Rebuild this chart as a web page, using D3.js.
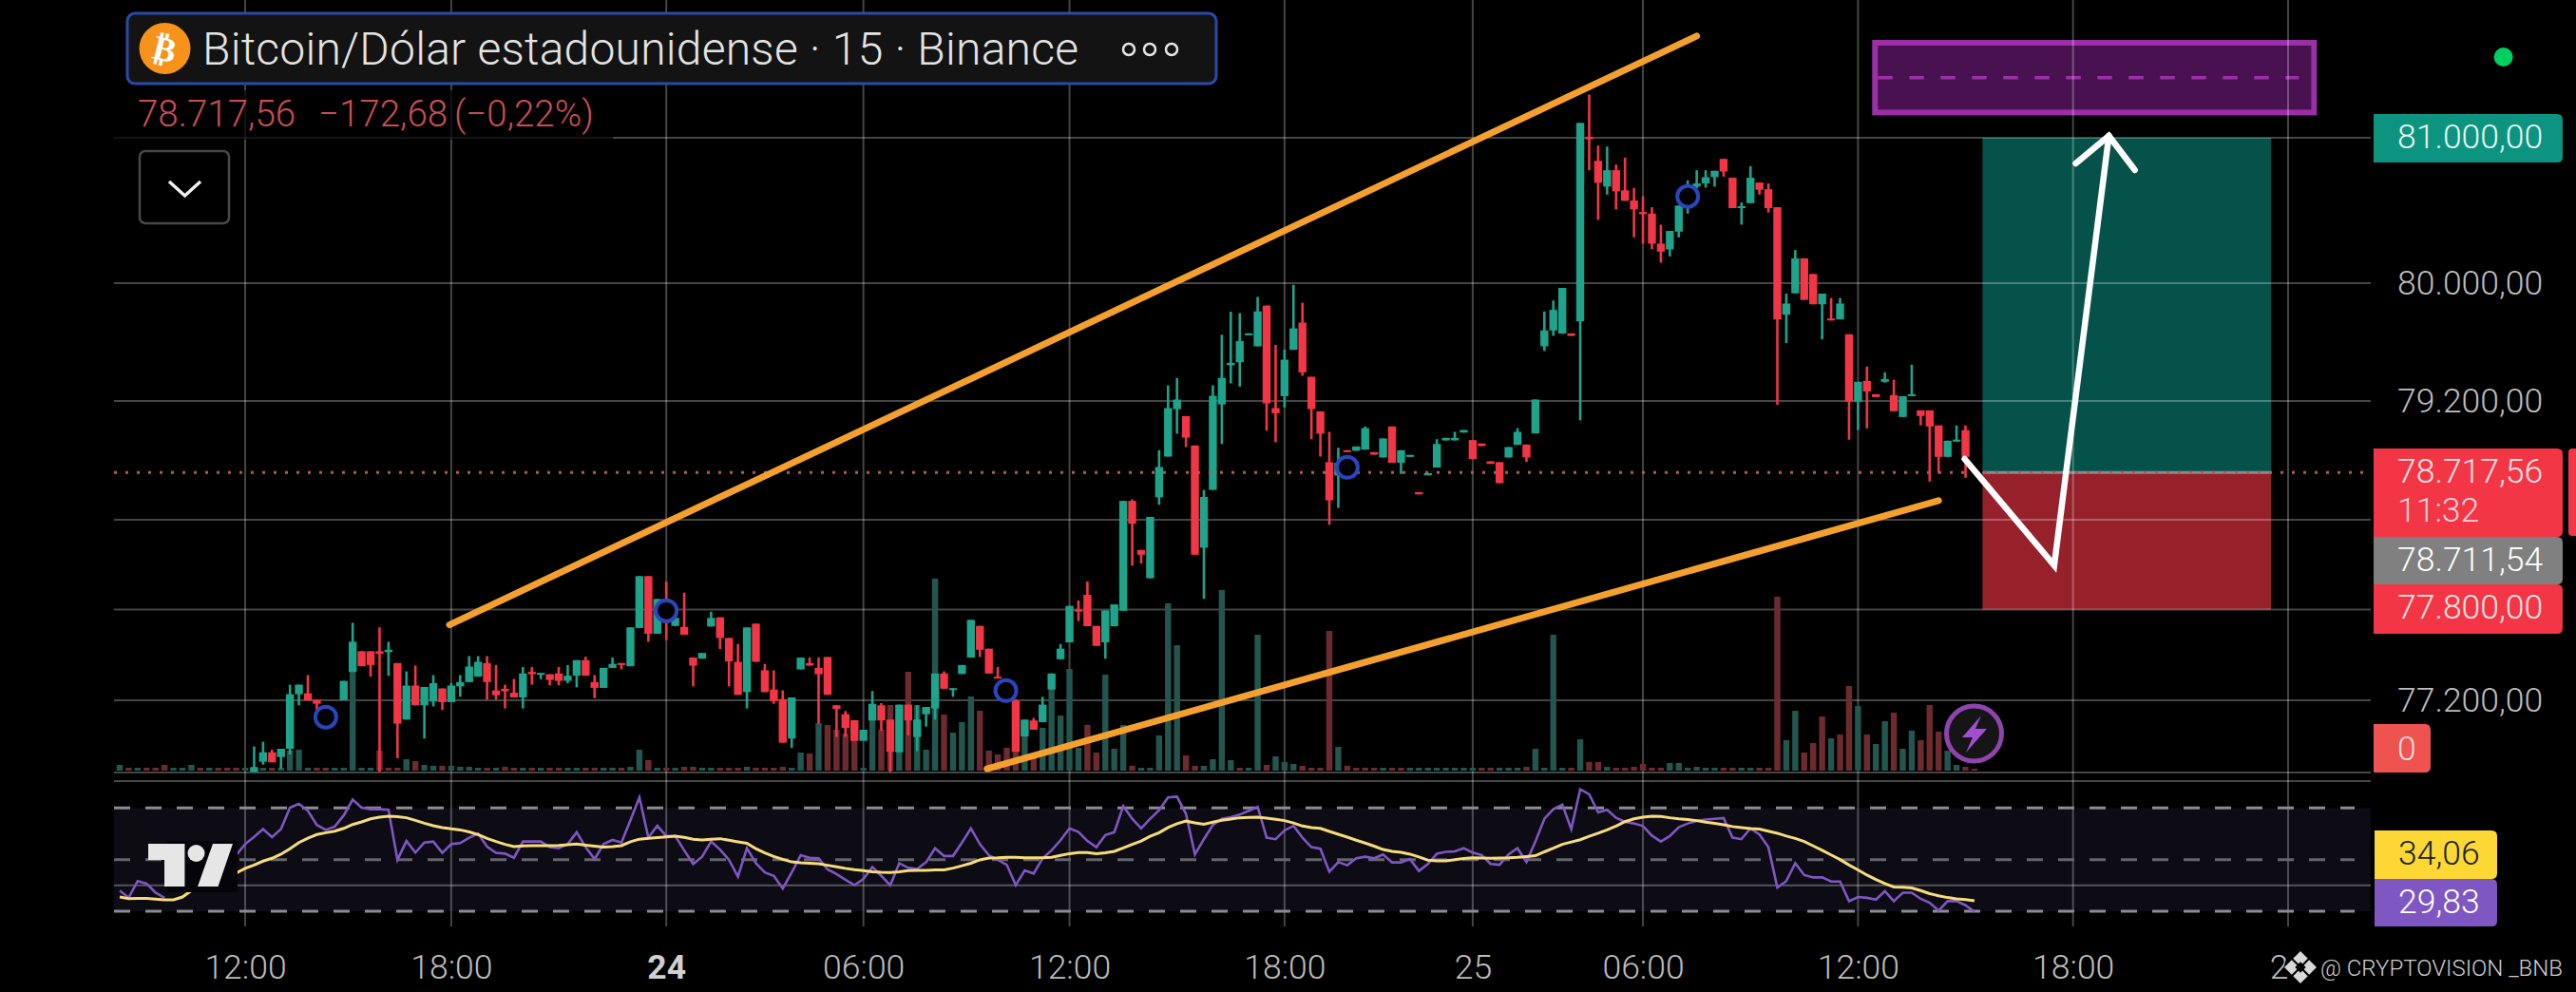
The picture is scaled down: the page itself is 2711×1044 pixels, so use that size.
<!DOCTYPE html>
<html lang="es">
<head>
    <meta charset="UTF-8">
    <title>Bitcoin/Dólar estadounidense</title>
    <style>
        html, body { margin: 0; background: #000; }
        svg { display: block; }
        text { font-family: Roboto, sans-serif; }
    </style>
</head>
<body>
    <div id="chart"></div>
    <script src="https://d3js.org/d3.v7.min.js"></script>
    <script>
        // candles start at bar 15, null = bar hidden or missing in the picture
        const firstCandle = 15;
        const open = [
            76729,76796,76858,76827,76881,77240,77246,77204,null,null,
            77202,77387,77524,77524,77524,77518,77446,77073,77297,77167,
            77192,77278,77188,77292,77320,77356,77446,77265,77276,77250,
            77219,77387,77370,77372,77377,77328,77362,77465,77320,77282,
            77414,77446,77425,77678,78023,77640,77871,77692,77686,77482,
            77475,77688,77749,77612,77454,77254,77707,77398,77271,77208,
            76948,77404,77446,77414,77486,77167,77108,77069,76933,77067,
            77167,77073,76858,77171,76958,77108,77146,77377,77267,77374,
            77482,77692,77541,77356,null,77198,76961,77067,77056,77271,
            77471,77583,77800,77899,77692,77583,77690,77793,78526,78198,
            78009,78551,78824,79144,79097,78899,78213,78600,79176,79441,
            79462,79645,79570,79847,79151,79232,79546,79731,79363,79129,
            78786,78696,78867,78863,78871,78854,78818,79027,78782,78822,
            78585,78698,78750,78933,78933,78986,78935,78912,78792,78786,
            78818,78903,78905,78980,79570,79678,79656,79658,79740,81007,
            80841,80663,80776,80637,80567,80488,80477,80271,80231,80353,
            80532,80663,80685,80728,80854,80724,80515,80549,80691,80645,
            80521,79785,79931,80170,80063,79856,79759,79753,79652,79194,
            79335,79245,79329,79239,79091,79232,79136,79136,79034,78822,78925,79002
        ];
        const high = [
            76896,76927,76875,76881,77303,77303,77366,77204,null,null,
            77328,77713,77524,77524,77682,77587,77446,77391,77429,77288,
            77366,77278,77313,77366,77492,77492,77492,77433,77303,77341,
            77419,77419,77381,77372,77419,77433,77465,77488,77366,77414,
            77482,77446,77682,78023,78023,77871,77987,77745,77913,77482,
            77513,77787,77749,77612,77572,77682,77707,77440,77398,77265,
            77219,77482,77482,77482,77486,77167,77129,77069,77006,77261,
            77181,77073,77171,77171,77167,77156,77377,77391,77280,77433,
            77732,77692,77541,77419,null,77208,77073,77083,77223,77377,
            77572,77825,77861,77987,77692,77795,77835,78526,78536,78198,
            78419,78867,79305,79355,79097,78899,78600,79305,79649,79806,
            79796,79658,79907,79847,79580,79548,79989,79866,79363,79129,
            78991,78884,78867,78892,79027,78854,78946,79027,78867,78835,
            78585,78713,78941,78950,78991,79003,78935,78912,78792,78786,
            78888,79016,78905,79209,79807,79882,79968,79658,81103,81299,
            80946,80939,80815,80863,80652,80597,80521,80401,80358,80532,
            80706,80776,80776,80772,80854,80724,80554,80804,80691,80685,
            80521,79929,80227,80170,80063,79929,79899,79899,79652,79329,
            79432,79245,79393,79342,79232,79445,79136,79136,79034,78931,79034,79034
        ];
        const low = [
            76729,76777,76792,76750,76844,77167,77198,77136,null,null,
            77202,77387,77425,77356,76729,77362,76819,77073,77167,76948,
            77160,77136,77188,77223,77320,77356,77204,77204,77146,77219,
            77146,77303,77339,77299,77299,77313,77286,77362,77214,77282,
            77414,77404,77425,77678,77587,77640,77598,77692,77633,77292,
            77475,77688,77539,77292,77236,77146,77454,77254,77177,76921,
            76886,77404,77429,77046,77236,76958,76958,76933,76933,77067,
            77000,76729,76858,76969,76865,77027,77073,77276,77223,77374,
            77482,77486,77377,77345,null,76861,76961,77006,77056,77271,
            77471,77583,77724,77690,77560,77475,77690,77793,78093,78107,
            78009,78500,78824,78978,78888,78166,77872,78600,78909,79318,
            79297,79645,79570,78999,78920,79155,79546,79370,78941,78824,
            78366,78479,78854,78863,78871,78837,78818,78782,78707,78822,
            78570,78698,78750,78933,78933,78986,78807,78895,78775,78645,
            78818,78903,78788,78980,79538,79641,79656,79641,79068,80776,
            80434,80608,80506,80565,80314,80271,80233,80140,80183,80314,
            80477,80652,80656,80663,80732,80515,80401,80549,80608,80484,
            79174,79592,79931,79886,79856,79617,79746,79753,78938,79002,
            79014,79226,79323,79130,79091,79232,79034,78656,78714,78822,78925,78682
        ];
        const close = [
            76760,76858,76792,76881,77240,77303,77198,77177,null,null,
            77328,77587,77425,77433,77507,77534,77046,77297,77167,77288,
            77313,77188,77297,77320,77423,77454,77320,77233,77259,77219,
            77377,77372,77381,77334,77328,77362,77465,77362,77282,77414,
            77440,77433,77682,78023,77640,77871,77713,77745,77633,77429,
            77513,77745,77612,77457,77236,77682,77454,77254,77194,76921,
            77219,77482,77429,77372,77236,77142,77017,76933,77006,77177,
            77067,76861,77171,77067,77073,77156,77377,77276,77280,77433,
            77732,77534,77377,77345,null,76861,77073,77006,77171,77377,
            77541,77825,77791,77690,77560,77795,77835,78526,78373,78166,
            78419,78754,79151,79209,78952,78166,78553,79234,79355,79458,
            79606,79658,79808,79183,79116,79479,79692,79393,79144,78978,
            78530,78782,78854,78892,79016,78837,78946,78782,78867,78835,
            78570,78713,78909,78950,78950,79003,78807,78895,78775,78645,
            78888,78991,78818,79209,79678,79818,79968,79641,81103,80990,
            80689,80776,80630,80565,80506,80473,80271,80216,80358,80532,
            80619,80685,80728,80772,80767,80515,80528,80724,80641,80515,
            79753,79861,80170,79886,79856,79929,79746,79861,79194,79329,
            79264,79226,79348,79130,79232,79245,79098,79027,78822,78931,78938,78822
        ];

        // volume per bar from bar 0, negative = down bar
        const volume = [
            6,-3,3,-3,-3,-6,3,3,6,-3,
            3,-3,-3,-3,3,4,3,-3,3,21,
            22,3,-3,-3,3,3,104,3,3,-21,
            -3,-3,12,-10,6,5,-5,5,4,4,
            3,-3,3,-4,-3,3,-3,3,-3,-3,
            3,3,-3,-3,3,3,-3,4,22,-11,
            3,-3,3,-4,-4,3,3,-3,-3,-3,
            4,-3,-3,-3,-4,3,19,-18,50,-48,
            -43,-39,-32,3,54,-43,-69,54,-104,69,
            22,202,-59,40,51,78,-63,-21,-17,-24,
            -20,36,-13,45,86,58,107,24,-48,-19,
            101,23,48,-5,3,3,37,176,132,-16,
            -5,5,12,190,11,-3,3,143,-6,15,
            9,7,-5,-3,-3,-147,25,-5,-3,-3,
            -3,3,-3,-3,3,3,3,3,3,3,
            3,3,-3,-3,3,3,3,-4,23,3,
            143,3,-3,33,-9,-9,4,-3,-3,-4,
            -7,-3,-3,8,8,3,4,3,3,-3,
            -3,3,3,-3,-3,-183,32,63,-19,-29,
            -57,34,-38,-89,68,-38,28,52,-61,23,
            42,-32,-69,-41,21,6,-4,-2
        ];

        // RSI and its moving average per bar from bar 0
        const rsi = [
            38.0,35.2,41.7,40.7,37.2,35.2,null,null,null,null,
            null,null,null,51.7,56.0,58.8,61.8,58.7,61.8,70.1,
            71.6,68.9,63.4,61.5,62.8,67.1,73.2,70.1,69.5,69.5,
            69.3,49.9,57.2,52.7,56.6,57.0,52.6,56.0,56.4,58.5,
            60.1,55.0,52.6,52.3,50.7,57.0,57.0,57.0,54.8,54.4,
            56.0,60.6,54.8,50.2,56.0,57.6,56.6,65.2,74.1,58.5,
            63.1,59.1,59.1,53.6,48.3,51.1,57.0,53.9,49.9,43.4,
            54.4,48.6,45.0,43.7,38.8,45.0,51.7,50.7,50.5,46.2,
            44.4,42.2,40.1,42.5,47.1,43.7,40.1,48.6,46.8,46.4,
            49.0,54.4,51.4,51.4,56.6,62.1,56.0,51.7,49.9,48.0,
            40.1,45.8,44.6,50.5,53.6,57.5,62.1,60.7,57.2,54.8,
            59.5,60.6,70.7,65.8,62.1,65.8,69.1,74.1,74.4,67.7,
            52.0,57.9,63.4,65.8,66.4,67.4,68.9,70.4,58.5,57.9,
            61.3,63.1,58.5,54.8,54.2,45.3,49.0,47.8,50.5,51.1,
            50.5,52.0,48.9,48.9,50.2,45.6,48.3,52.3,53.0,53.2,
            54.4,52.7,51.7,48.3,48.0,52.0,54.4,49.0,57.0,65.8,
            69.5,71.3,61.8,77.2,75.3,68.3,69.3,66.2,64.6,64.0,
            63.0,59.3,57.0,59.1,62.5,64.0,65.0,65.5,65.8,66.1,
            58.5,57.9,62.1,59.7,54.8,39.2,41.7,48.6,44.0,43.1,
            43.1,41.5,41.5,33.9,35.5,35.2,34.5,37.8,33.9,37.2,
            37.2,34.8,33.3,30.2,33.9,33.9,32.3,29.83
        ];
        const rsiMa = [
            35.5,34.9,35.0,35.0,34.7,34.4,34.4,35.5,38.0,null,
            null,null,43.4,44.8,46.6,47.9,49.4,50.5,52.1,54.2,
            56.6,58.3,59.7,60.4,61.0,62.1,63.6,64.6,65.8,66.4,
            66.8,66.6,66.2,65.2,64.1,63.1,62.4,61.9,61.5,60.7,
            59.7,58.2,57.0,55.9,55.0,55.3,55.4,55.4,55.4,55.5,
            55.8,56.0,55.6,55.2,54.8,55.0,55.4,56.9,57.9,58.2,
            58.5,58.8,59.1,58.6,57.9,57.6,57.9,58.1,57.5,56.9,
            56.3,54.2,52.6,51.2,50.1,49.1,48.8,48.6,48.4,47.8,
            47.2,46.6,46.1,45.7,45.3,45.1,45.0,45.3,45.7,45.8,
            45.8,46.0,46.0,46.7,47.6,48.6,49.9,50.6,50.7,50.9,
            50.9,50.7,50.7,50.7,50.9,51.6,52.3,52.7,52.7,52.3,
            52.6,53.2,54.5,55.9,57.2,59.0,60.4,62.4,63.9,64.9,
            64.2,63.7,64.5,65.2,65.7,66.2,66.3,66.4,66.1,65.6,
            65.1,64.2,63.0,62.4,62.1,60.9,59.8,58.7,57.5,56.4,
            55.2,53.9,53.2,52.8,52.1,51.0,49.8,49.5,49.5,50.0,
            50.4,50.7,50.6,50.5,50.6,50.7,50.9,51.2,51.5,53.0,
            54.4,55.9,56.8,57.7,59.0,60.2,61.5,63.0,64.7,65.8,
            66.4,66.8,66.7,66.2,65.8,65.5,65.1,64.5,64.0,63.5,
            62.8,62.4,62.0,61.8,61.0,60.2,59.1,58.2,57.0,55.3,
            53.6,51.8,50.0,47.9,46.0,44.0,42.3,40.7,39.4,39.3,
            39.0,38.0,36.8,36.0,35.3,34.8,34.5,34.06
        ];

        const timeTickBars = [14, 37, 61, 83, 106, 130, 151, 170, 194, 218, 242];
        const timeTickLabels = ["12:00", "18:00", "24", "06:00", "12:00", "18:00", "25", "06:00", "12:00", "18:00", "26"];
        const gridPrices = [81000, 80000, 79200, 78400, 77800, 77200];
        const axisPrices = [80000, 79200, 77200];
        const rsiBands = [70, 50, 30];

        // drawings on the chart, as [bar, price]
        const upperTrend = [[36.8, 77699], [176, 81707]];
        const lowerTrend = [[96.8, 76750], [203, 78528]];
        const projection = [[205.9, 78808], [215.9, 78095], [222, 81013]];
        const arrowHead = [[218.3, 80823], [222, 81013], [224.9, 80777]];
        const signalBars = [23, 61, 98.9, 137, 175];
        const signalPrices = [77089, 77793, 77264, 78752, 80595];
        const targetZone = { bars: [195.9, 244.9], prices: [81660, 81175] };
        const positionBars = [207.9, 240.1];
        const takeProfit = 81000, entry = 78717.56, stopLoss = 77800;

        const width = 2711, height = 1044;
        const plotLeft = 120, plotRight = 2495;
        const green = "#1fa38a", red = "#f23645";

        const x = d3.scaleLinear().domain([14, 242]).range([258, 2408]);
        const y = d3.scaleLog().domain([77200, 81000]).range([737, 145]);
        const yVol = d3.scaleLinear().domain([0, 200]).range([811, 611]);
        const yRsi = d3.scaleLinear().domain([30, 70]).range([959, 850.3]);
        const esLocale = d3.formatLocale({ decimal: ",", thousands: ".", grouping: [3], currency: ["", ""] });
        const priceFmt = esLocale.format(",.2f");

        const svg = d3.select("#chart").append("svg")
            .attr("width", width)
            .attr("height", height)
            .style("background", "#000");

        // zones go under the grid, the grid shows through them
        svg.append("rect")
            .attr("x", x(targetZone.bars[0]))
            .attr("y", y(targetZone.prices[0]))
            .attr("width", x(targetZone.bars[1]) - x(targetZone.bars[0]))
            .attr("height", y(targetZone.prices[1]) - y(targetZone.prices[0]))
            .attr("fill", "#47124f")
            .attr("stroke", "#9c2fa8")
            .attr("stroke-width", 6);
        svg.append("line")
            .attr("x1", x(targetZone.bars[0]) + 3)
            .attr("x2", x(targetZone.bars[1]) - 16)
            .attr("y1", y(d3.mean(targetZone.prices)))
            .attr("y2", y(d3.mean(targetZone.prices)))
            .attr("stroke", "#9c2fa8")
            .attr("stroke-width", 3.5)
            .attr("stroke-dasharray", "15.5 17.5");

        svg.append("rect")
            .attr("x", x(positionBars[0]))
            .attr("y", y(takeProfit))
            .attr("width", x(positionBars[1]) - x(positionBars[0]))
            .attr("height", y(entry) - y(takeProfit))
            .attr("fill", "#05524a");
        svg.append("rect")
            .attr("x", x(positionBars[0]))
            .attr("y", y(entry))
            .attr("width", x(positionBars[1]) - x(positionBars[0]))
            .attr("height", y(stopLoss) - y(entry))
            .attr("fill", "#96212b");
        svg.append("line")
            .attr("x1", x(positionBars[0]))
            .attr("x2", x(positionBars[1]))
            .attr("y1", y(entry))
            .attr("y2", y(entry))
            .attr("stroke", "#8a8a8a")
            .attr("stroke-width", 3);

        // rsi background
        svg.append("rect")
            .attr("x", plotLeft)
            .attr("y", yRsi(70))
            .attr("width", plotRight - plotLeft)
            .attr("height", yRsi(30) - yRsi(70))
            .attr("fill", "#0d0b14");

        // grid
        svg.append("g").selectAll("line")
            .data(timeTickBars)
            .enter()
            .append("line")
            .attr("x1", d => x(d))
            .attr("x2", d => x(d))
            .attr("y1", 0)
            .attr("y2", 975)
            .attr("stroke", "rgba(255,255,255,0.27)")
            .attr("stroke-width", 2);
        svg.append("g").selectAll("line")
            .data(gridPrices)
            .enter()
            .append("line")
            .attr("x1", plotLeft)
            .attr("x2", plotRight)
            .attr("y1", d => y(d))
            .attr("y2", d => y(d))
            .attr("stroke", "rgba(255,255,255,0.27)")
            .attr("stroke-width", 2);
        svg.selectAll(".pane")
            .data([813, 822])
            .enter()
            .append("line")
            .attr("class", "pane")
            .attr("x1", plotLeft)
            .attr("x2", plotRight)
            .attr("y1", d => d)
            .attr("y2", d => d)
            .attr("stroke", "rgba(255,255,255,0.27)")
            .attr("stroke-width", 2);
        svg.append("line")
            .attr("x1", plotLeft)
            .attr("x2", plotRight)
            .attr("y1", yRsi(40))
            .attr("y2", yRsi(40))
            .attr("stroke", "rgba(255,255,255,0.3)")
            .attr("stroke-width", 2);
        svg.append("g").selectAll("line")
            .data(rsiBands)
            .enter()
            .append("line")
            .attr("x1", plotLeft)
            .attr("x2", 2478)
            .attr("y1", d => yRsi(d))
            .attr("y2", d => yRsi(d))
            .attr("stroke", d => d === 50 ? "#66646c" : "#8d8b94")
            .attr("stroke-width", 3)
            .attr("stroke-dasharray", "17 16");

        // volume
        svg.append("g").selectAll("rect")
            .data(volume)
            .enter()
            .append("rect")
            .attr("x", (d, i) => x(i) - 3.2)
            .attr("y", d => yVol(Math.abs(d)))
            .attr("width", 6.4)
            .attr("height", d => yVol(0) - yVol(Math.abs(d)))
            .attr("fill", d => d < 0 ? "#6e2b2f" : "#22564f");

        // candles
        const bars = d3.range(open.length).filter(i => open[i] !== null);
        const candle = svg.append("g").selectAll("g")
            .data(bars)
            .enter()
            .append("g")
            .attr("fill", i => close[i] >= open[i] ? green : red);
        candle.append("rect")
            .attr("x", i => x(i + firstCandle) - 1.3)
            .attr("y", i => y(high[i]))
            .attr("width", 2.6)
            .attr("height", i => y(low[i]) - y(high[i]));
        candle.append("rect")
            .attr("x", i => x(i + firstCandle) - 4.2)
            .attr("y", i => y(Math.max(open[i], close[i])))
            .attr("width", 8.4)
            .attr("height", i => Math.max(2, Math.abs(y(open[i]) - y(close[i]))));

        // last price
        svg.append("line")
            .attr("x1", plotLeft)
            .attr("x2", 2487)
            .attr("y1", y(entry))
            .attr("y2", y(entry))
            .attr("stroke", "#b0585d")
            .attr("stroke-width", 3)
            .attr("stroke-dasharray", "3 9");

        // trend lines
        const linePath = d3.line().x(d => x(d[0])).y(d => y(d[1]));
        svg.selectAll(".trend")
            .data([upperTrend, lowerTrend])
            .enter()
            .append("path")
            .attr("class", "trend")
            .attr("d", linePath)
            .attr("fill", "none")
            .attr("stroke", "#f4a02f")
            .attr("stroke-width", 7)
            .attr("stroke-linecap", "round");

        svg.selectAll(".signal")
            .data(signalBars)
            .enter()
            .append("circle")
            .attr("class", "signal")
            .attr("cx", d => x(d))
            .attr("cy", (d, i) => y(signalPrices[i]))
            .attr("r", 11)
            .attr("fill", "#000")
            .attr("stroke", "#2b45c0")
            .attr("stroke-width", 4);

        svg.selectAll(".projection")
            .data([projection, arrowHead])
            .enter()
            .append("path")
            .attr("class", "projection")
            .attr("d", linePath)
            .attr("fill", "none")
            .attr("stroke", "#fff")
            .attr("stroke-width", 6.5)
            .attr("stroke-linejoin", "miter")
            .attr("stroke-linecap", "round");

        // rsi lines
        const rsiLine = d3.line()
            .defined(d => d !== null)
            .x((d, i) => x(i))
            .y(d => yRsi(d));
        svg.append("path")
            .attr("d", rsiLine(rsi))
            .attr("fill", "none")
            .attr("stroke", "#7e57c2")
            .attr("stroke-width", 2.6);
        svg.append("path")
            .attr("d", rsiLine(rsiMa))
            .attr("fill", "none")
            .attr("stroke", "#f7dc7a")
            .attr("stroke-width", 3);

        // tradingview mark
        svg.append("rect")
            .attr("x", 176)
            .attr("y", 885)
            .attr("width", 74)
            .attr("height", 54)
            .attr("fill", "#05040a");
        const tvMark = svg.append("g").attr("fill", "#e6e6e6");
        tvMark.append("path").attr("d", "M156 888H194.4V933H173V905H156Z");
        tvMark.append("circle").attr("cx", 206.5).attr("cy", 898).attr("r", 9);
        tvMark.append("path").attr("d", "M224 888H245L229.5 933H208Z");

        // axes
        svg.append("g")
            .attr("transform", `translate(${plotRight},0)`)
            .call(d3.axisRight(y).tickValues(axisPrices).tickFormat(priceFmt).tickSize(0).tickPadding(28))
            .call(g => g.select(".domain").remove())
            .selectAll("text")
            .attr("font-size", 35.5)
            .attr("font-weight", 300)
            .attr("fill", "#bdbdbd")
            .style("font-family", "Roboto, sans-serif");

        svg.append("g")
            .attr("transform", "translate(0,1005)")
            .call(d3.axisBottom(x).tickValues(timeTickBars).tickFormat((d, i) => timeTickLabels[i]).tickSize(0).tickPadding(0))
            .call(g => g.select(".domain").remove())
            .selectAll("text")
            .attr("font-size", 35.5)
            .attr("dy", 0)
            .attr("y", 25)
            .attr("font-weight", d => d === 61 ? 700 : 300)
            .attr("fill", d => d === 61 ? "#d0d0d0" : "#bdbdbd")
            .style("font-family", "Roboto, sans-serif");

        // price tags
        const tags = [
            { y0: y(takeProfit) - 25, y1: y(takeProfit) + 26, fill: "#0d9480", text: priceFmt(takeProfit), color: "#e8f5f1", ty: 144 },
            { y0: 472, y1: 565, fill: red, text: priceFmt(entry), color: "#fbe4e6", ty: 496 },
            { y0: 565, y1: 615, fill: "#808080", text: priceFmt(78711.54), color: "#fff", ty: 589 },
            { y0: 615, y1: 667, fill: red, text: priceFmt(stopLoss), color: "#fbe4e6", ty: 639 }
        ];
        const tagPath = (x0, x1, y0, y1) =>
            `M${x0} ${y0}H${x1 - 6}Q${x1} ${y0} ${x1} ${y0 + 6}V${y1 - 6}Q${x1} ${y1} ${x1 - 6} ${y1}H${x0}Z`;
        svg.selectAll(".tag")
            .data(tags)
            .enter()
            .append("path")
            .attr("class", "tag")
            .attr("d", d => tagPath(2498, 2697, d.y0, d.y1))
            .attr("fill", d => d.fill);
        svg.selectAll(".tagText")
            .data(tags)
            .enter()
            .append("text")
            .attr("class", "tagText")
            .attr("x", 2523)
            .attr("y", d => d.ty)
            .attr("dy", "0.35em")
            .attr("font-size", 35.5)
            .attr("font-weight", 300)
            .attr("fill", d => d.color)
            .text(d => d.text);
        svg.append("text")
            .attr("x", 2523)
            .attr("y", 537)
            .attr("dy", "0.35em")
            .attr("font-size", 35.5)
            .attr("font-weight", 300)
            .attr("fill", "#fbd5d8")
            .text("11:32");
        svg.append("rect")
            .attr("x", 2703)
            .attr("y", 472)
            .attr("width", 12)
            .attr("height", 92)
            .attr("rx", 4)
            .attr("fill", red);

        svg.append("path")
            .attr("d", tagPath(2498, 2558, 762, 813))
            .attr("fill", "#ef5350");
        svg.append("text")
            .attr("x", 2523)
            .attr("y", 788)
            .attr("dy", "0.35em")
            .attr("font-size", 35.5)
            .attr("font-weight", 300)
            .attr("fill", "#fbdcdb")
            .text("0");

        svg.append("path")
            .attr("d", tagPath(2499, 2628, 874, 925))
            .attr("fill", "#fdd835");
        svg.append("text")
            .attr("x", 2524)
            .attr("y", 898)
            .attr("dy", "0.35em")
            .attr("font-size", 35.5)
            .attr("font-weight", 300)
            .attr("fill", "#222")
            .text(esLocale.format(".2f")(rsiMa[rsiMa.length - 1]));
        svg.append("path")
            .attr("d", tagPath(2499, 2628, 925, 975))
            .attr("fill", "#7e57c2");
        svg.append("text")
            .attr("x", 2524)
            .attr("y", 949)
            .attr("dy", "0.35em")
            .attr("font-size", 35.5)
            .attr("font-weight", 300)
            .attr("fill", "#fff")
            .text(esLocale.format(".2f")(rsi[rsi.length - 1]));

        // header
        svg.append("rect")
            .attr("x", 120)
            .attr("y", 95)
            .attr("width", 525)
            .attr("height", 52)
            .attr("fill", "#000")
            .attr("opacity", 0.7);
        svg.append("rect")
            .attr("x", 134)
            .attr("y", 14)
            .attr("width", 1146)
            .attr("height", 74)
            .attr("rx", 8)
            .attr("fill", "#131313")
            .attr("stroke", "#2a4aa8")
            .attr("stroke-width", 3);
        svg.append("circle")
            .attr("cx", 173.5)
            .attr("cy", 51)
            .attr("r", 27)
            .attr("fill", "#f7931a");
        svg.append("text")
            .attr("x", 173.5)
            .attr("y", 51)
            .attr("dy", "0.36em")
            .attr("text-anchor", "middle")
            .attr("font-size", 36)
            .attr("font-weight", 700)
            .attr("fill", "#fff")
            .attr("transform", "rotate(14 173.5 51)")
            .style("font-family", "'DejaVu Sans'")
            .text("\u20BF");
        svg.append("text")
            .attr("x", 213)
            .attr("y", 68)
            .attr("font-size", 48)
            .attr("font-weight", 300)
            .attr("letter-spacing", 0.22)
            .attr("fill", "#e4e4e4")
            .text("Bitcoin/Dólar estadounidense · 15 · Binance");
        svg.append("g").selectAll("circle")
            .data([1188, 1210, 1233])
            .enter()
            .append("circle")
            .attr("cx", d => d)
            .attr("cy", 52)
            .attr("r", 6)
            .attr("fill", "none")
            .attr("stroke", "#e6e6e6")
            .attr("stroke-width", 2.5);

        const quote = [[145, priceFmt(entry)], [335, "\u2212172,68"], [478, "(\u22120,22%)"]];
        svg.append("g").selectAll("text")
            .data(quote)
            .enter()
            .append("text")
            .attr("x", d => d[0])
            .attr("y", 133)
            .attr("font-size", 38.5)
            .attr("font-weight", 300)
            .attr("fill", "#cc4d55")
            .text(d => d[1]);

        svg.append("rect")
            .attr("x", 147)
            .attr("y", 159)
            .attr("width", 94)
            .attr("height", 76)
            .attr("rx", 6)
            .attr("fill", "#000")
            .attr("stroke", "#484848")
            .attr("stroke-width", 2.5);
        svg.append("path")
            .attr("d", "M178 191L194.5 206L211 191")
            .attr("fill", "none")
            .attr("stroke", "#f0f0f0")
            .attr("stroke-width", 3.5);

        svg.append("circle")
            .attr("cx", 2634.6)
            .attr("cy", 60)
            .attr("r", 10)
            .attr("fill", "#00d060");

        // bolt button
        svg.append("circle")
            .attr("cx", 2077.5)
            .attr("cy", 772)
            .attr("r", 29)
            .attr("fill", "#151515")
            .attr("stroke", "#8e44ad")
            .attr("stroke-width", 5);
        svg.append("path")
            .attr("d", "M2085 753L2065 776H2076L2069 792L2091 767H2079Z")
            .attr("fill", "#a04fd0");

        // watermark
        svg.append("circle")
            .attr("cx", 2421)
            .attr("cy", 1018)
            .attr("r", 17)
            .attr("fill", "#000");
        const bnb = svg.append("g")
            .attr("fill", "#d9d9d9")
            .attr("transform", "translate(2421,1018) rotate(45)");
        [[-12, -12], [1, -12], [-12, 1], [1, 1]].forEach(d => {
            bnb.append("rect")
                .attr("x", d[0])
                .attr("y", d[1])
                .attr("width", 11)
                .attr("height", 11);
        });
        bnb.append("rect").attr("x", -4).attr("y", -4).attr("width", 8).attr("height", 8).attr("fill", "#000");
        svg.append("text")
            .attr("x", 2442)
            .attr("y", 1027)
            .attr("font-size", 24)
            .attr("font-weight", 300)
            .attr("fill", "#cfcfcf")
            .text("@ CRYPTOVISION _BNB");
    </script>
</body>
</html>
